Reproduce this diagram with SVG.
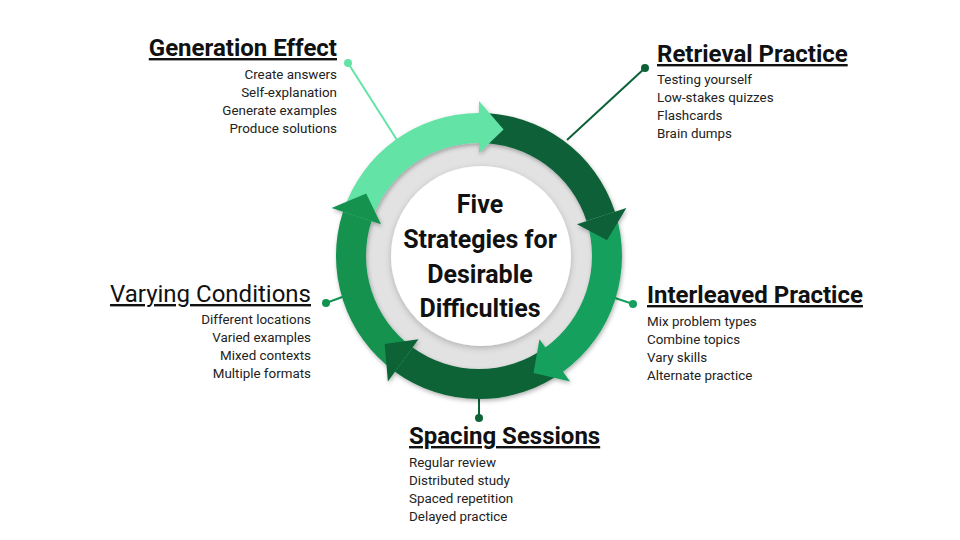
<svg xmlns="http://www.w3.org/2000/svg" width="960" height="540" viewBox="0 0 960 540">
  <defs>
    <filter id="sh" x="-20%" y="-20%" width="140%" height="140%">
      <feDropShadow dx="1" dy="2" stdDeviation="2" flood-color="#000" flood-opacity="0.3"/>
    </filter>
    <filter id="dsh" x="-20%" y="-20%" width="140%" height="140%">
      <feDropShadow dx="0" dy="2" stdDeviation="3" flood-color="#000" flood-opacity="0.22"/>
    </filter>
  </defs>
  <style>
    .title{font-family:Roboto,"Liberation Sans",sans-serif;font-size:24px;font-weight:700;fill:#111;text-decoration:underline;}
    .reg{font-weight:400;}
    .item{font-family:Roboto,"Liberation Sans",sans-serif;font-size:13.4px;fill:#222;}
    .center{font-family:Roboto,"Liberation Sans",sans-serif;font-size:25px;font-weight:700;fill:#111;text-anchor:middle;}
    .end{text-anchor:end;}
    .con{stroke-width:2;fill:none;}
    .mint{fill:#63e3a5;}
    .dark{fill:#0d6137;}
    .med{fill:#17a05d;}
    .dark2{fill:#0c6336;}
    .med2{fill:#12924f;}
  </style>
  <rect width="960" height="540" fill="#fff"/>

  <g id="connectors">
    <line class="con" x1="397" y1="140" x2="348" y2="63" stroke="#63e3a5"/>
    <circle cx="348" cy="63" r="4" fill="#63e3a5"/>
    <line class="con" x1="567" y1="140" x2="645" y2="68" stroke="#0d6137"/>
    <circle cx="645" cy="68" r="4" fill="#0d6137"/>
    <line class="con" x1="612" y1="297" x2="633" y2="304" stroke="#17a05d"/>
    <circle cx="633" cy="304" r="4" fill="#17a05d"/>
    <line class="con" x1="479" y1="398" x2="479" y2="418" stroke="#0c6336"/>
    <circle cx="479" cy="418" r="4" fill="#0c6336"/>
    <line class="con" x1="345" y1="296" x2="326" y2="303" stroke="#12924f"/>
    <circle cx="326" cy="303" r="4" fill="#12924f"/>
  </g>

  <g id="cycle">
    <circle cx="479" cy="256" r="118" fill="#e2e2e2"/>
    <g filter="url(#sh)">
      <path class="mint" d="M343,211.8 A143,143 0 0 1 479,113 L479,143 A113,113 0 0 0 371.5,221.1 Z"/>
      <path class="dark" d="M479,113 A143,143 0 0 1 615,211.8 L586.5,221.1 A113,113 0 0 0 479,143 Z"/>
      <path class="med" d="M615,211.8 A143,143 0 0 1 563.1,371.7 L545.4,347.4 A113,113 0 0 0 586.5,221.1 Z"/>
      <path class="dark2" d="M563.1,371.7 A143,143 0 0 1 394.9,371.7 L412.6,347.4 A113,113 0 0 0 545.4,347.4 Z"/>
      <path class="med2" d="M394.9,371.7 A143,143 0 0 1 343,211.8 L371.5,221.1 A113,113 0 0 0 412.6,347.4 Z"/>
      <polygon class="mint" points="479,101 503.6,129.4 479,153"/>
      <polygon class="dark" points="626.4,208.1 607,240.3 577,224.2"/>
      <polygon class="med" points="570.1,381.4 533.5,372.9 539.5,339.3"/>
      <polygon class="dark2" points="387.9,381.4 384.7,344 418.5,339.3"/>
      <polygon class="med2" points="331.6,208.1 366.2,193.5 381,224.2"/>
    </g>
    <circle cx="481" cy="256" r="90" fill="#fff" filter="url(#dsh)"/>
    <text class="center" x="480" y="213">Five</text>
    <text class="center" x="480" y="248">Strategies for</text>
    <text class="center" x="480" y="283">Desirable</text>
    <text class="center" x="480" y="317">Difficulties</text>
  </g>

  <g id="generation-effect">
    <text class="title end" x="337" y="56">Generation Effect</text>
    <text class="item end" x="337" y="79">Create answers</text>
    <text class="item end" x="337" y="97">Self-explanation</text>
    <text class="item end" x="337" y="115">Generate examples</text>
    <text class="item end" x="337" y="133">Produce solutions</text>
  </g>

  <g id="retrieval-practice">
    <text class="title" x="657" y="62">Retrieval Practice</text>
    <text class="item" x="657" y="84">Testing yourself</text>
    <text class="item" x="657" y="102">Low-stakes quizzes</text>
    <text class="item" x="657" y="120">Flashcards</text>
    <text class="item" x="657" y="138">Brain dumps</text>
  </g>

  <g id="interleaved-practice">
    <text class="title" x="647" y="303">Interleaved Practice</text>
    <text class="item" x="647" y="326">Mix problem types</text>
    <text class="item" x="647" y="344">Combine topics</text>
    <text class="item" x="647" y="362">Vary skills</text>
    <text class="item" x="647" y="380">Alternate practice</text>
  </g>

  <g id="spacing-sessions">
    <text class="title" x="409" y="444">Spacing Sessions</text>
    <text class="item" x="409" y="467">Regular review</text>
    <text class="item" x="409" y="485">Distributed study</text>
    <text class="item" x="409" y="503">Spaced repetition</text>
    <text class="item" x="409" y="521">Delayed practice</text>
  </g>

  <g id="varying-conditions">
    <text class="title reg end" x="311" y="302">Varying Conditions</text>
    <text class="item end" x="311" y="324">Different locations</text>
    <text class="item end" x="311" y="342">Varied examples</text>
    <text class="item end" x="311" y="360">Mixed contexts</text>
    <text class="item end" x="311" y="378">Multiple formats</text>
  </g>
</svg>
